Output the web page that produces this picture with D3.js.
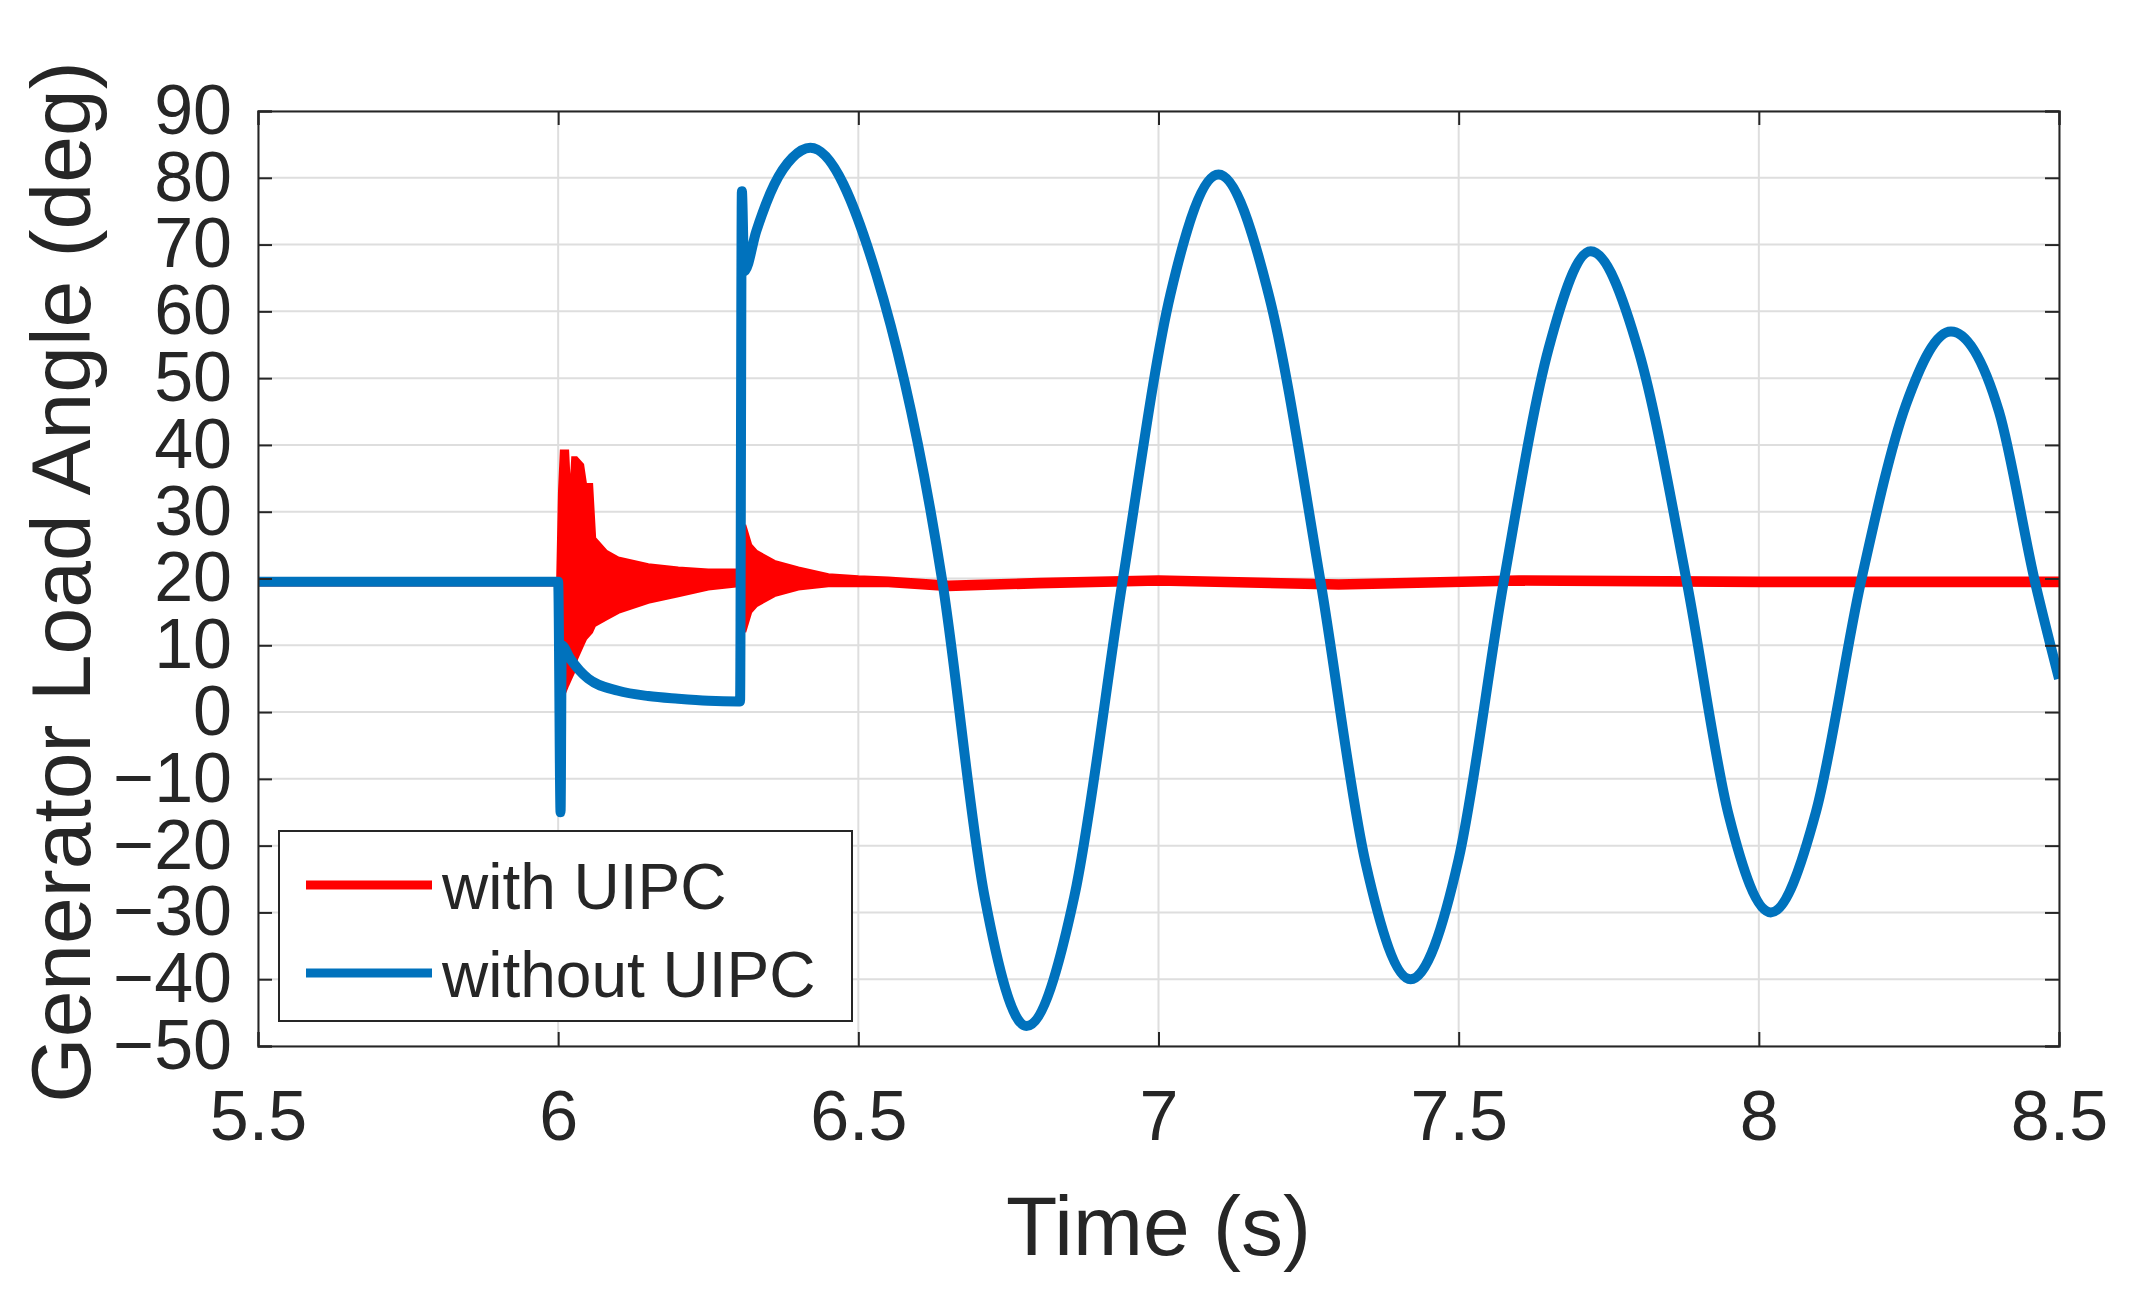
<!DOCTYPE html>
<html><head><meta charset="utf-8">
<style>
body { margin: 0; background: #fff; }
text { font-family: "Liberation Sans", Arial, sans-serif; fill: #262626; }
</style>
</head><body>
<div id="chart"></div>
<script src="https://d3js.org/d3.v7.min.js"></script>
<script>
// blue: without UIPC
var blueT = [5.5, 5.8, 5.999, 6.0, 6.004, 6.006, 6.02, 6.05, 6.1, 6.15, 6.2, 6.25, 6.3, 6.303, 6.306, 6.31, 6.33, 6.36, 6.39, 6.42, 6.53, 6.64, 6.71, 6.78, 6.86, 6.94, 7.02, 7.10, 7.185, 7.27, 7.345, 7.42, 7.5, 7.575, 7.65, 7.72, 7.80, 7.88, 7.95, 8.02, 8.095, 8.17, 8.245, 8.32, 8.40, 8.46, 8.5];
var blueV = [19.5, 19.5, 19.5, 19.5, -15, 10, 8, 5, 3.2, 2.4, 2, 1.7, 1.6, 1.6, 78, 66, 72, 79, 83, 84.5, 65.5, 19.5, -27.5, -47, -27.5, 19.5, 62.6, 80.5, 62, 19.5, -22.6, -40, -22, 19.5, 54.5, 69, 54, 19.5, -15.5, -30, -15, 19.5, 46, 57, 45, 19.5, 5];
// red: with UIPC, envelope of fast oscillation
var redT  = [5.5, 6.0, 6.003, 6.006, 6.015, 6.02, 6.025, 6.03, 6.04, 6.045, 6.055, 6.06, 6.08, 6.1, 6.15, 6.2, 6.25, 6.3, 6.31, 6.32, 6.33, 6.36, 6.4, 6.45, 6.5, 6.55, 6.65, 6.8, 7.0, 7.3, 7.6, 8.0, 8.5];
var redHi = [19.9, 19.9, 33, 39, 39, 30, 38, 38, 37, 34, 34, 26, 24, 23, 22, 21.5, 21.2, 21.2, 28, 25, 24, 22.5, 21.5, 20.5, 20.2, 20, 19.4, 19.8, 20.2, 19.6, 20.2, 20, 20];
var redLo = [19.1, 19.1, 8, 2, 4, 5, 6, 8, 10, 11, 12, 13, 14, 15, 16.5, 17.5, 18.5, 19, 12, 15, 16, 17.5, 18.5, 19, 19, 19, 18.4, 18.8, 19.2, 18.6, 19.2, 19, 19];
var xTicks = [5.5, 6, 6.5, 7, 7.5, 8, 8.5];
var yTicks = [90, 80, 70, 60, 50, 40, 30, 20, 10, 0, -10, -20, -30, -40, -50];
var legendNames = ["with UIPC", "without UIPC"];
var legendColors = ["#ff0000", "#0072bd"];

var W = 2129, H = 1289;
var L = 258, R = 2059, T = 111, B = 1046;
var svg = d3.select("#chart").append("svg").attr("width", W).attr("height", H);
var x = d3.scaleLinear().domain([5.5, 8.5]).range([L, R]);
var y = d3.scaleLinear().domain([-50, 90]).range([B, T]);

// grid
svg.append("g").selectAll("line").data(xTicks).enter().append("line")
  .attr("x1", d => x(d)).attr("x2", d => x(d)).attr("y1", T).attr("y2", B)
  .attr("stroke", "#dedede").attr("stroke-width", 2);
svg.append("g").selectAll("line").data(yTicks).enter().append("line")
  .attr("y1", d => y(d)).attr("y2", d => y(d)).attr("x1", L).attr("x2", R)
  .attr("stroke", "#dedede").attr("stroke-width", 2);

svg.append("clipPath").attr("id", "c").append("rect")
  .attr("x", L).attr("y", T).attr("width", R - L).attr("height", B - T);
var plot = svg.append("g").attr("clip-path", "url(#c)");

var redData = redT.map((t, i) => ({t: t, hi: redHi[i], lo: redLo[i]}));
plot.append("path").datum(redData)
  .attr("d", d3.area().x(d => x(d.t)).y0(d => y(d.lo)).y1(d => y(d.hi)))
  .attr("fill", "#ff0000").attr("stroke", "#ff0000").attr("stroke-width", 4);

var blueData = blueT.map((t, i) => ({t: t, v: blueV[i]}));
plot.append("path").datum(blueData)
  .attr("d", d3.line().x(d => x(d.t)).y(d => y(d.v)).curve(d3.curveMonotoneX))
  .attr("fill", "none").attr("stroke", "#0072bd").attr("stroke-width", 10)
  .attr("stroke-linejoin", "round");

// axes (box with inward ticks)
var tk = -14;
svg.append("g").attr("transform", "translate(0," + B + ")")
  .call(d3.axisBottom(x).tickValues(xTicks).tickSize(tk).tickPadding(44).tickFormat(d3.format("")));
svg.append("g").attr("transform", "translate(0," + T + ")")
  .call(d3.axisTop(x).tickValues(xTicks).tickSize(tk).tickFormat(""));
svg.append("g").attr("transform", "translate(" + L + ",0)")
  .call(d3.axisLeft(y).tickValues(yTicks).tickSize(tk).tickPadding(26).tickFormat(d => d < 0 ? "\u2212" + (-d) : d));
svg.append("g").attr("transform", "translate(" + R + ",0)")
  .call(d3.axisRight(y).tickValues(yTicks).tickSize(tk).tickFormat(""));
svg.selectAll(".domain").attr("stroke", "#262626").attr("stroke-width", 2);
svg.selectAll(".tick line").attr("stroke", "#262626").attr("stroke-width", 2);
svg.selectAll(".tick text").style("font-size", "70px").attr("fill", "#262626")
  .style("font-family", "'Liberation Sans', Arial, sans-serif");

svg.append("text").attr("x", (L + R) / 2).attr("y", 1255).attr("text-anchor", "middle")
  .style("font-size", "84px").text("Time (s)");
svg.append("text").attr("transform", "translate(90," + 582 + ") rotate(-90)")
  .attr("text-anchor", "middle").style("font-size", "84px").text("Generator Load Angle (deg)");

// legend
var lg = svg.append("g");
lg.append("rect").attr("x", 279).attr("y", 831).attr("width", 573).attr("height", 190)
  .attr("fill", "#fff").attr("stroke", "#262626").attr("stroke-width", 2);
legendNames.forEach(function(n, i) {
  var yy = 885 + i * 88;
  lg.append("line").attr("x1", 306).attr("x2", 432).attr("y1", yy).attr("y2", yy)
    .attr("stroke", legendColors[i]).attr("stroke-width", 9);
  lg.append("text").attr("x", 442).attr("y", yy + 24).style("font-size", "64px").text(n);
});
</script>
</body></html>
